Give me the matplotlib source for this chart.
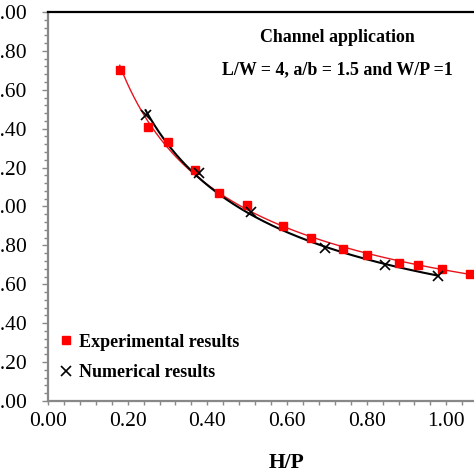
import numpy as np
import matplotlib
matplotlib.use("Agg")
import matplotlib.pyplot as plt
from matplotlib.ticker import MultipleLocator, FormatStrFormatter
from matplotlib.lines import Line2D

# Data
exp_x = [0.18, 0.25, 0.30, 0.37, 0.43, 0.50, 0.59, 0.66, 0.74, 0.80, 0.88, 0.93, 0.99, 1.06]
exp_y = [1.70, 1.41, 1.33, 1.19, 1.07, 1.01, 0.90, 0.84, 0.78, 0.75, 0.71, 0.70, 0.68, 0.655]
num_x = [0.245, 0.38, 0.51, 0.695, 0.845, 0.98]
num_y = [1.47, 1.17, 0.97, 0.785, 0.70, 0.645]

x_label = "H/P"
title1 = "Channel application"
title2 = "L/W = 4, a/b = 1.5 and W/P =1"
leg_labels = ["Experimental results", "Numerical results"]

plt.rcParams['font.family'] = ['Liberation Serif', 'DejaVu Serif']

fig = plt.figure(figsize=(4.74, 4.74), dpi=100)
ax = fig.add_axes([48/474, 73/474, 478/474, 389/474])

def power_fit(x, y):
    b, loga = np.polyfit(np.log(x), np.log(y), 1)
    return np.exp(loga), b

a1, b1 = power_fit(exp_x, exp_y)
xs1 = np.linspace(min(exp_x), max(exp_x) + 0.02, 200)
ax.plot(xs1, a1 * xs1 ** b1, color='#e8141c', lw=1.0, zorder=2)

a2, b2 = power_fit(num_x, num_y)
xs2 = np.linspace(min(num_x), max(num_x), 200)
ax.plot(xs2, a2 * xs2 ** b2, color='black', lw=1.5, zorder=3)

ax.plot(exp_x, exp_y, 's', color='#ff0000', ms=5.5, mec='#ff0000', ls='none', zorder=4)
ax.plot(num_x, num_y, 'x', color='black', ms=7, mew=1.2, ls='none', zorder=5)

ax.set_xlim(0, 1.2)
ax.set_ylim(0, 2.0)
ax.xaxis.set_major_locator(MultipleLocator(0.2))
ax.xaxis.set_minor_locator(MultipleLocator(0.04))
ax.yaxis.set_major_locator(MultipleLocator(0.2))
ax.yaxis.set_minor_locator(MultipleLocator(0.04))
ax.xaxis.set_major_formatter(FormatStrFormatter('%.2f'))
ax.yaxis.set_major_formatter(FormatStrFormatter('%.2f'))

gray = '#888888'
for s in ['left', 'bottom']:
    ax.spines[s].set_color(gray)
    ax.spines[s].set_linewidth(1.6)
ax.spines['top'].set_color('black')
ax.spines['top'].set_linewidth(1.6)
ax.spines['right'].set_visible(False)

ax.tick_params(axis='both', which='both', direction='out', color=gray, width=1.0)
ax.tick_params(axis='x', which='both', length=3, pad=5, labelsize=15.5)
ax.tick_params(axis='y', which='major', length=4.3, pad=10.8, labelsize=15.5)
ax.tick_params(axis='y', which='minor', length=3)

ax.set_xlabel(x_label, fontsize=15.5, fontweight='bold', labelpad=16)

fig.text(337/474, 1 - 37/474, title1, ha='center', va='center', fontsize=12.9, fontweight='bold')
fig.text(337/474, 1 - 70/474, title2, ha='center', va='center', fontsize=12.9, fontweight='bold')

handles = [Line2D([], [], marker='s', color='#ff0000', ls='none', ms=5.5),
           Line2D([], [], marker='x', color='black', ls='none', ms=7, mew=1.2)]
leg = ax.legend(handles, leg_labels, loc='upper left', bbox_to_anchor=(-0.012, 0.215),
                frameon=False, handlelength=0.8, handletextpad=0.35, labelspacing=0.75,
                prop={'size': 13, 'weight': 'bold'})

fig.savefig('out.png', dpi=100)
